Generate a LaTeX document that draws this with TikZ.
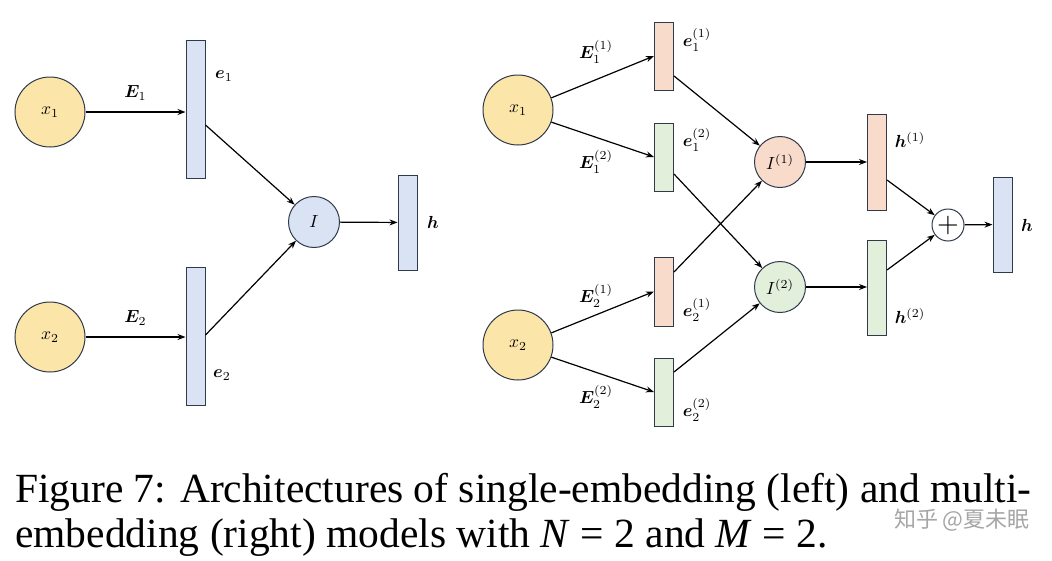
\documentclass[tikz,border=0pt]{standalone}
\usepackage{amsmath,bm}
\usepackage{fontspec}
\newfontfamily\capfont{Liberation Serif}
\newfontfamily\cjk{Noto Sans CJK SC}
\usetikzlibrary{arrows.meta}
\definecolor{cy}{HTML}{FBE5A9}
\definecolor{cb}{HTML}{DAE3F3}
\definecolor{cp}{HTML}{F8DBCB}
\definecolor{cg}{HTML}{E2EFDA}
\definecolor{bd}{HTML}{2F3A4A}
\begin{document}
\begin{tikzpicture}[x=1pt,y=-1pt,
 circ/.style={circle,draw=bd,line width=1pt,inner sep=0pt},
 inp/.style={circ,fill=cy,minimum size=70pt},
 mid/.style={circ,minimum size=51pt},
 bar/.style={draw=bd,line width=1pt,inner sep=0pt,minimum width=19pt},
 arr/.style={-{Stealth[length=8pt,width=6pt]},line width=1.2pt},
 lab/.style={inner sep=0pt,scale=1.75}]
\useasboundingbox (0,0) rectangle (1052,560);
\fill[white] (0,0) rectangle (1052,560);
% left
\node[inp] (lx1) at (50,112) {};
\node[lab] (lx1t) at (lx1) {$x_1$};
\node[inp] (lx2) at (50,337) {};
\node[lab] (lx2t) at (lx2) {$x_2$};
\node[bar,fill=cb,minimum height=138pt] (le1) at (195.5,109) {};
\node[bar,fill=cb,minimum height=138pt] (le2) at (195.5,336) {};
\node[mid,fill=cb] (lI) at (314,222) {};
\node[lab] (lIt) at (lI) {$I$};
\node[bar,fill=cb,minimum height=95pt] (lh) at (407.5,222.5) {};
\draw[arr] (lx1) -- node[lab,above=6pt]{$\bm{E}_1$} (lx1 -| le1.west);
\draw[arr] (lx2) -- node[lab,above=6pt]{$\bm{E}_2$} (lx2 -| le2.west);
\node[lab] (t1) at (224,76) {$\bm{e}_1$};
\node[lab] (t2) at (222,375) {$\bm{e}_2$};
\node[lab] (t3) at (433,222) {$\bm{h}$};
\draw[arr] (le1.east |- 0,125) -- (lI);
\draw[arr] (le2.east |- 0,335) -- (lI);
\draw[arr] (lI) -- (lh);
% right
\node[inp] (rx1) at (518,110) {};
\node[lab] (rx1t) at (rx1) {$x_1$};
\node[inp] (rx2) at (518,345) {};
\node[lab] (rx2t) at (rx2) {$x_2$};
\node[bar,fill=cp,minimum height=68pt] (a1) at (664,56) {};
\node[bar,fill=cg,minimum height=68pt] (a2) at (664,157) {};
\node[bar,fill=cp,minimum height=69pt] (b1) at (664,291.5) {};
\node[bar,fill=cg,minimum height=68pt] (b2) at (664,392) {};
\node[mid,fill=cp] (I1) at (780,162) {};
\node[lab] (I1t) at (I1) {$I^{(1)}$};
\node[mid,fill=cg] (I2) at (780,287) {};
\node[lab] (I2t) at (I2) {$I^{(2)}$};
\node[bar,fill=cp,minimum height=96pt] (h1) at (877,162) {};
\node[bar,fill=cg,minimum height=95pt] (h2) at (877,287.5) {};
\node[circ,fill=white,minimum size=32pt] (pl) at (948,225) {};
\node[lab,scale=1.6] (plt) at (pl) {$+$};
\node[bar,fill=cb,minimum height=95pt] (hh) at (1002.5,224.5) {};
\draw[arr] (rx1.20) -- (a1.west);
\draw[arr] (rx1.-20) -- (a2.west);
\draw[arr] (rx2.20) -- (b1.west);
\draw[arr] (rx2.-20) -- (b2.west);
\node[lab] at (596,52) {$\bm{E}_1^{(1)}$};
\node[lab] at (596,162) {$\bm{E}_1^{(2)}$};
\node[lab] at (596,296) {$\bm{E}_2^{(1)}$};
\node[lab] at (596,397) {$\bm{E}_2^{(2)}$};
\node[lab] at (697,40) {$\bm{e}_1^{(1)}$};
\node[lab] at (697,140) {$\bm{e}_1^{(2)}$};
\node[lab] at (697,310) {$\bm{e}_2^{(1)}$};
\node[lab] at (697,410) {$\bm{e}_2^{(2)}$};
\node[lab] at (910,140) {$\bm{h}^{(1)}$};
\node[lab] at (910,316) {$\bm{h}^{(2)}$};
\node[lab] at (1027,225) {$\bm{h}$};
\draw[arr] (a1.east |- 0,76) -- (I1);
\draw[arr] (a2.east |- 0,174) -- (I2);
\draw[arr] (b1.east |- 0,272) -- (I1);
\draw[arr] (b2.east |- 0,372) -- (I2);
\draw[arr] (I1) -- (I1 -| h1.west);
\draw[arr] (I2) -- (I2 -| h2.west);
\draw[arr] (h1.east |- 0,180) -- (pl);
\draw[arr] (h2.east |- 0,270) -- (pl);
\draw[arr] (pl) -- (hh);
% caption
\node[anchor=base west,inner sep=0pt,font=\capfont\fontsize{41.5}{44}\selectfont] (c1) at (15,502) {Figure 7: Architectures of single-embedding (left) and multi-};
\node[anchor=base west,inner sep=0pt,font=\capfont\fontsize{41.5}{44}\selectfont] (c2) at (15,547) {embedding (right) models with \textit{N} = 2 and \textit{M} = 2.};
\node[anchor=base east,inner sep=0pt,text=gray!70,font=\cjk\fontsize{22}{24}\selectfont] (wm) at (1030,527) {知乎 @夏未眠};
\end{tikzpicture}
\end{document}
